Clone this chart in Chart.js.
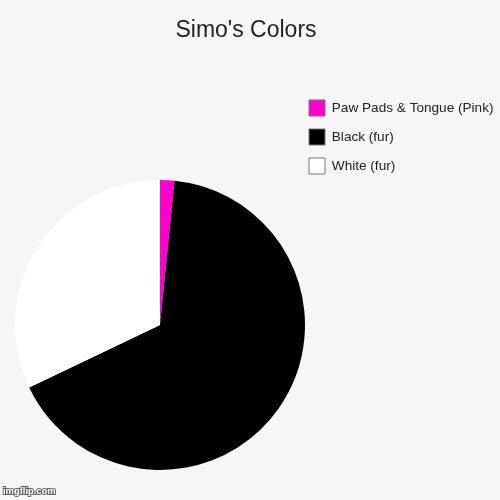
<!DOCTYPE html>
<html>
<head>
<meta charset="utf-8">
<script src="https://cdn.jsdelivr.net/npm/chart.js@4"></script>
<style>
  html, body { margin: 0; padding: 0; background: #f6f6f6; }
  #wrap { width: 500px; height: 500px; }
</style>
</head>
<body>
<div id="wrap"><canvas id="pieChart" width="500" height="500"></canvas></div>
<script>
  // chart data
  const categories = ['Paw Pads & Tongue (Pink)', 'Black (fur)', 'White (fur)'];
  const shares = [1.6, 66.3, 32.1];
  const sliceColors = ['#ff00cc', '#000000', '#ffffff'];
  const chartTitle = "Simo's Colors";

  // legend sits higher than the pie's own box, so move it after layout;
  // title is centred on the whole canvas, not the padded area
  const legendSpot = {
    id: 'legendSpot',
    afterLayout(chart) {
      const lg = chart.legend;
      const h = lg.bottom - lg.top;
      lg.left = 296;
      lg.right = 500;
      lg.width = 204;
      lg.top = 87;
      lg.bottom = 87 + h;
      const tb = chart.titleBlock;
      tb.left = -8;
      tb.right = 500;
      tb.width = 508;
    }
  };

  // little site stamp in the corner
  const stamp = {
    id: 'stamp',
    afterDraw(chart) {
      const c = chart.ctx;
      c.save();
      c.font = 'bold 9.4px "Liberation Sans", Arial, sans-serif';
      c.textBaseline = 'alphabetic';
      c.lineWidth = 2;
      c.strokeStyle = 'rgba(70,70,70,0.8)';
      c.fillStyle = '#ffffff';
      c.strokeText('imgflip.com', 3, 494);
      c.fillText('imgflip.com', 3, 494);
      c.restore();
    }
  };

  document.addEventListener('DOMContentLoaded', () => {
    const ctx = document.getElementById('pieChart').getContext('2d');
    new Chart(ctx, {
      type: 'pie',
      data: {
        labels: categories,
        datasets: [{
          data: shares,
          backgroundColor: sliceColors,
          borderWidth: 0
        }]
      },
      options: {
        responsive: false,
        animation: false,
        layout: {
          padding: { left: 15, right: 0, top: 0, bottom: 30 }
        },
        plugins: {
          title: {
            display: true,
            text: chartTitle,
            color: '#222',
            font: { family: '"Liberation Sans", Arial, sans-serif', size: 23, weight: 'normal' },
            padding: { top: 16.5, bottom: 135.9 }
          },
          legend: {
            position: 'right',
            align: 'start',
            maxWidth: 195,
            labels: {
              color: '#222',
              boxWidth: 16,
              boxHeight: 16,
              padding: 13,
              font: { family: '"Liberation Sans", Arial, sans-serif', size: 13.6 },
              generateLabels(chart) {
                const items = Chart.overrides.pie.plugins.legend.labels.generateLabels(chart);
                return items.map(it => Object.assign(it, { strokeStyle: '#777', lineWidth: 1 }));
              }
            }
          },
          tooltip: { enabled: false }
        }
      },
      plugins: [legendSpot, stamp]
    });
  });
</script>
</body>
</html>
